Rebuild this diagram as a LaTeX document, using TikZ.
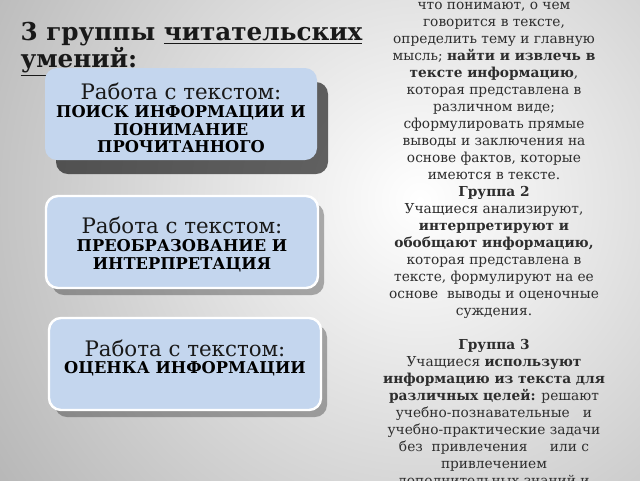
\documentclass[tikz,border=0pt]{standalone}
\usepackage{fontspec}
\setmainfont{DejaVu Serif}
\usepackage{tikz}
\tikzset{every picture/.style={line width=0.75pt}}
\definecolor{panelblue}{RGB}{196,214,238}
\definecolor{inkgray}{RGB}{45,45,45}
\tikzset{
	panel/.style={rounded corners=9pt, fill=panelblue, minimum width=204pt, minimum height=69pt, inner sep=0pt},
	glowpanel/.style={panel, draw=white, line width=1.8pt},
	panelshadow/.style={rounded corners=9pt, fill=black, minimum width=204pt, minimum height=69pt, inner sep=0pt},
	head/.style={anchor=north, inner sep=0pt, font=\fontsize{16}{19}\selectfont, text=black!90},
	caps/.style={anchor=north, inner sep=0pt, align=center, font=\fontsize{12.2}{13.2}\selectfont\bfseries, text=black},
	title/.style={anchor=north west, align=left, inner sep=0pt, font=\fontsize{18.5}{17.25}\selectfont\bfseries, text=black!90},
	column/.style={anchor=north, inner sep=0pt, align=center, font=\fontsize{10.3}{12.75}\selectfont, text=inkgray}
}

\begin{document}
\begin{tikzpicture}[x=0.75pt,y=0.75pt,yscale=-1,xscale=1]
		\useasboundingbox (0,0) rectangle (640,480);
		\clip (0,0) rectangle (640,480);
		
		%Background
		\shade[inner color=white, outer color=black!50] (420,200) circle (900);
		
		% Title
		\node[title] (ttl) at (20,22) {3 группы \underline{читательских}\\\underline{умений:}};
		
		%Panel 1
		\node[panelshadow, fill opacity=0.6] (sh1) at (192,128) {};
		\node[panel] (box1) at (181,114) {};
		\node[head] (hd1) at (181,82) {Работа с текстом:};
		\node[caps] (cp1) at (181,105) {ПОИСК ИНФОРМАЦИИ И\\ПОНИМАНИЕ\\ПРОЧИТАННОГО};
		
		%Panel 2
		\node[panelshadow, fill opacity=0.3] (sh2) at (188,249) {};
		\node[glowpanel] (box2) at (182,242) {};
		\node[head] (hd2) at (182,216) {Работа с текстом:};
		\node[caps] (cp2) at (182,239) {ПРЕОБРАЗОВАНИЕ И\\ИНТЕРПРЕТАЦИЯ};
		
		%Panel 3
		\node[panelshadow, fill opacity=0.3] (sh3) at (191,371) {};
		\node[glowpanel] (box3) at (185,364) {};
		\node[head] (hd3) at (185,339) {Работа с текстом:};
		\node[caps] (cp3) at (185,361) {ОЦЕНКА ИНФОРМАЦИИ};
		
		% Text column
		\node[column] (groups) at (494,2) {что понимают, о чем\\
			говорится в тексте,\\
			определить тему и главную\\
			мысль; \textbf{найти и извлечь в}\\
			\textbf{тексте информацию},\\
			которая представлена в\\
			различном виде;\\
			сформулировать прямые\\
			выводы и заключения на\\
			основе фактов, которые\\
			имеются в тексте.\\
			\textbf{Группа 2}\\
			Учащиеся анализируют,\\
			\textbf{интерпретируют и}\\
			\textbf{обобщают информацию,}\\
			которая представлена в\\
			тексте, формулируют на ее\\
			основе~ выводы и оценочные\\
			суждения.\\
			\mbox{}\\
			\textbf{Группа 3}\\
			Учащиеся \textbf{используют}\\
			\textbf{информацию из текста для}\\
			\textbf{различных целей:} решают\\
			учебно-познавательные~~ и\\
			учебно-практические задачи\\
			без~ привлечения\quad~ или с\\
			привлечением\\
			дополнительных знаний и};
		
\end{tikzpicture}
\end{document}
